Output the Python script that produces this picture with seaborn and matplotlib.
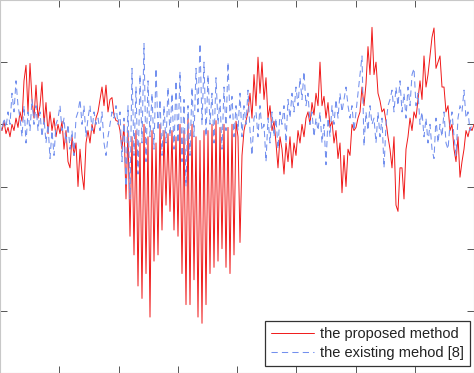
import numpy as np
import pandas as pd
import matplotlib
matplotlib.use("Agg")
import matplotlib.pyplot as plt
import seaborn as sns

# ---- data (arbitrary units, 10 units per y tick) ----
proposed = [
    -0.5, -1.0, 0.5, -1.5, -0.5, -2.0, 0.0, -1.0, 1.0, -0.5,
    2.0, 0.5, 7.0, 9.5, 2.0, 9.8, 4.0, 1.0, 6.3, 1.0,
    3.0, 6.8, 0.0, 3.5, -1.5, 2.0, -1.0, 1.0, -2.0, 0.0,
    -1.5, 0.5, -4.0, -1.0, -6.0, -7.0, -2.0, -5.0, -3.0, -10.0,
    -4.0, -8.0, -10.5, -3.0, -1.0, -3.0, 0.0, -1.5, 1.0, 2.0,
    4.0, 6.0, 3.0, 6.3, 2.0, 4.0, 4.3, 1.5, 0.6, 0.5,
    -1.0, -4.0, 0.0, -12.0, -1.0, -18.0, -2.0, -21.0, -1.0, -26.0,
    -3.0, -28.0, 0.0, -24.0, -2.0, -31.0, -1.0, -22.0, -3.0, -21.0,
    0.0, -17.0, -1.0, -13.0, -1.5, -14.0, -1.0, -17.0, -2.0, -18.0,
    0.0, -24.0, -1.0, -29.0, 1.0, -29.0, 0.0, -25.0, -2.0, -31.0,
    -2.6, -32.0, -1.0, -29.0, -1.0, -24.0, 0.0, -23.0, 0.6, -22.0,
    -0.5, -20.0, 0.0, -23.0, -0.5, -24.0, 0.0, -21.0, 0.5, -2.0,
    -19.0, -5.0, -1.0, 0.5, 2.0, 5.0, 1.0, 8.0, 3.0, 10.8,
    5.0, 10.0, 4.0, 7.5, 1.0, 3.0, -1.0, 0.5, -3.0, -7.0,
    -2.0, -4.0, -8.0, -3.0, -6.0, -2.0, -7.0, -3.0, -5.0, -1.0,
    -3.0, 0.0, -2.0, 1.0, 2.0, 0.0, 3.5, 1.5, 5.0, 3.0,
    10.0, 3.0, 4.5, 1.0, 3.5, -0.5, 0.5, -3.0, -1.0, -5.5,
    -3.0, -11.0, -5.0, -10.0, -4.0, -5.0, 0.0, -1.0, -0.5, 1.0,
    2.0, 6.0, 3.0, 6.5, 12.5, 8.0, 15.6, 8.0, 10.0, 5.0,
    3.8, 2.0, 2.5, 0.5, -2.0, -4.0, -7.0, -2.0, -13.0, -14.0,
    -7.0, -7.0, -12.0, -4.0, -2.0, 1.0, -1.0, 2.0, 1.0, 4.0,
    7.0, 4.0, 11.0, 6.0, 8.0, 11.0, 14.0, 15.5, 9.0, 10.0,
    11.0, 6.0, 6.0, 2.0, 3.0, -1.0, 0.0, -4.0, -6.0, -2.0,
    -8.5, -6.0, -4.0, -1.0, -2.0, -0.5, -1.0, 0.0,
]

existing = [
    0.0, -1.0, 1.0, -0.5, 2.0, 0.0, 5.0, 2.0, 7.0, 3.0,
    1.0, -2.0, 3.0, -3.0, 2.0, -1.0, 4.0, 0.0, 3.0, -1.0,
    2.0, -2.0, 1.0, -3.0, 0.0, -5.5, -1.0, -5.0, 0.0, 1.0,
    3.0, -1.0, 1.0, -3.0, 0.0, -4.0, -1.0, -5.0, 1.0, 2.0,
    4.0, 0.0, 3.0, -2.0, 1.0, 3.0, -1.0, 2.0, 0.0, 1.0,
    -1.0, 2.0, -3.0, -5.0, -2.0, 0.0, 2.0, 1.0, 3.0, 0.0,
    2.0, -6.0, 1.0, -10.0, 3.0, -12.0, 9.0, -5.0, 6.0, -8.0,
    8.0, -3.0, 13.0, -6.0, 7.0, -2.0, 5.0, -4.0, 9.0, -1.0,
    4.0, -5.0, 3.0, -3.0, 6.0, -2.0, 5.0, -4.0, 7.0, -3.0,
    8.5, -6.0, 4.0, -10.0, 3.0, -5.0, 6.0, -2.0, 9.0, 2.0,
    13.0, 0.0, 10.0, -2.0, 8.0, 0.0, 5.0, -3.0, 7.5, 0.0,
    4.0, -4.0, 6.0, -1.0, 10.0, 1.0, 4.5, -2.0, 3.0, -1.0,
    5.0, -2.0, 3.0, 0.0, 5.5, -1.0, -5.0, 1.0, 2.0, -2.0,
    3.0, -1.0, 0.0, -6.0, 1.0, -3.0, 2.0, -2.0, 1.0, -4.0,
    2.0, 0.0, 3.0, -3.0, 4.0, 1.0, 5.0, 2.0, 6.0, 3.0,
    7.5, 4.0, 8.5, 3.0, 5.0, 0.0, 2.0, -2.0, 1.0, -1.0,
    2.0, -3.0, 0.0, -6.5, 1.0, -2.0, 3.0, 0.0, 4.0, 1.0,
    5.0, 2.0, 4.0, 6.0, 3.0, 1.0, 3.0, -1.0, 2.0, 5.0,
    8.0, 11.0, -3.5, 2.0, -1.0, 3.0, 0.0, 1.0, -3.0, 2.0,
    -2.0, 1.0, -7.0, 0.0, 3.0, 4.0, 5.5, 2.0, 6.0, 3.0,
    7.0, 2.0, 5.0, 1.0, 6.0, 3.0, 8.0, 9.0, 3.0, 5.0,
    0.0, 2.0, -2.0, 1.0, -3.0, 0.0, -4.0, -5.5, 1.0, -3.0,
    0.0, -2.0, 2.0, -3.0, -4.0, 0.0, 2.0, -2.0, -5.0, 1.0,
    3.0, 2.0, 5.5, 1.0, 2.0, -1.0, 0.0, 0.0,
]

labels = ["the proposed method", "the existing mehod [8]"]
x_max = 800
y_min, y_max = -40, 20

df_p = pd.DataFrame({"t": np.linspace(0, x_max, len(proposed)), "v": proposed})
df_e = pd.DataFrame({"t": np.linspace(0, x_max, len(existing)), "v": existing})

sns.set_style("white")
plt.rcParams["font.family"] = ["Liberation Sans", "DejaVu Sans"]

fig = plt.figure(figsize=(4.74, 3.73), dpi=100)
ax = fig.add_axes([0, 0, 1, 1])

sns.lineplot(data=df_p, x="t", y="v", ax=ax, color="#f01818", lw=0.7,
             estimator=None, sort=False, label=labels[0])
sns.lineplot(data=df_e, x="t", y="v", ax=ax, color="#7390ee", lw=0.75,
             estimator=None, sort=False, label=labels[1])
ax.lines[1].set_dashes((6, 4))

ax.set_xlim(0, x_max)
ax.set_ylim(y_min, y_max)
ax.set_xticks(np.arange(0, x_max + 1, 100))
ax.set_yticks(np.arange(y_min, y_max + 1, 10))
ax.set_xlabel("")
ax.set_ylabel("")
ax.tick_params(direction="in", length=5, width=0.7, colors="#555555",
               top=True, right=True, bottom=True, left=True,
               labelbottom=False, labelleft=False)
for s in ax.spines.values():
    s.set_visible(True)
    s.set_color("#c8c8c8")
    s.set_linewidth(0.8)

leg = ax.legend(loc="lower right", bbox_to_anchor=(470 / 474, 7 / 373),
                borderaxespad=0, fontsize=10.5, frameon=True, fancybox=False,
                framealpha=1, edgecolor="#333333", handlelength=3.0,
                handletextpad=0.4, labelspacing=0.35, borderpad=0.4)
leg.get_frame().set_linewidth(0.9)
for t in leg.get_texts():
    t.set_color("#222222")

fig.savefig("out.png", dpi=100)
